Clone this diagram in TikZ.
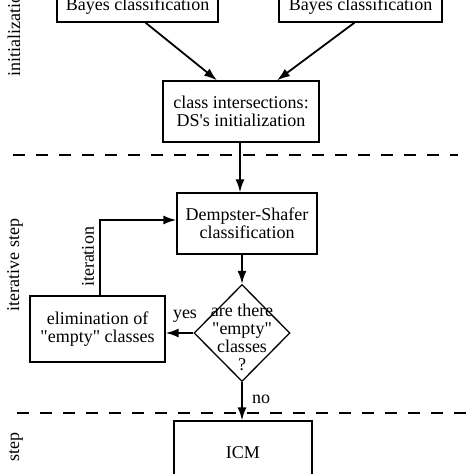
\documentclass[tikz,border=0pt]{standalone}
\usepackage{fontspec}
\setmainfont{Liberation Serif}[Ligatures=TeXOff]
\usetikzlibrary{shapes.geometric,arrows.meta}
\begin{document}
\begin{tikzpicture}[x=1pt,y=-1pt,
  txt/.style={font=\fontsize{18}{18}\selectfont},
  box/.style={txt, draw, line width=1.3pt, align=center, inner sep=0pt},
  lbl/.style={txt, inner sep=0pt},
  arr/.style={line width=1.8pt, -{Latex[length=13pt,width=9pt]}},
  sep/.style={line width=1.3pt, dash pattern=on 12pt off 11pt}]
\path[use as bounding box] (0,0) rectangle (474,474);
\clip (0,0) rectangle (474,474);

% separators
\draw[sep] (13,155) -- (458,155);
\draw[sep] (17,413) -- (474,413);

% side labels
\node[lbl, rotate=90, anchor=west] (linit) at (14,77) {initialization};
\node[lbl, rotate=90] (liter) at (15,265) {iterative step};
\node[lbl, rotate=90, anchor=east] (lstep) at (16,432) {step};

% boxes
\node[box, minimum width=161pt, minimum height=32pt] (b1) at (137.5,6) {Bayes classification};
\node[box, minimum width=163pt, minimum height=32pt] (b2) at (360.5,6) {Bayes classification};
\node[box, minimum width=156pt, minimum height=61pt] (ci) at (241,111.5) {class intersections:\\DS's initialization};
\node[box, minimum width=140pt, minimum height=61pt] (ds) at (247,223.5) {Dempster-Shafer\\classification};
\node[draw, diamond, line width=1.3pt, minimum width=96pt, minimum height=97pt, inner sep=0pt] (q) at (242,333) {};
\node[lbl, align=center] (qt) at (242,337) {are there\\"empty"\\classes\\?};
\node[box, minimum width=135pt, minimum height=66pt] (el) at (97.5,329) {elimination of\\"empty" classes};
\node[box, minimum width=138pt, minimum height=64pt] (icm) at (243,453) {ICM};

% connectors
\draw[arr] ([xshift=8pt]b1.south) -- ([xshift=-24pt]ci.north);
\draw[arr] ([xshift=-6pt]b2.south) -- ([xshift=36pt]ci.north);
\draw[arr] ([xshift=-1pt]ci.south) -- ([xshift=-1pt]ci.south |- ds.north);
\draw[arr] (q.north |- ds.south) -- (q.north);
\draw[arr] ([xshift=2.5pt]el.north) |- ([yshift=3.5pt]ds.west);
\draw[arr] (q.west) -- (q.west -| el.east);
\draw[arr] (q.south) -- (q.south |- icm.north);

% connector labels
\node[lbl] (lyes) at (185,316) {yes};
\node[lbl] (lno) at (261,399) {no};
\node[lbl, rotate=90] (lit) at (88,257) {iteration};
\end{tikzpicture}
\end{document}
